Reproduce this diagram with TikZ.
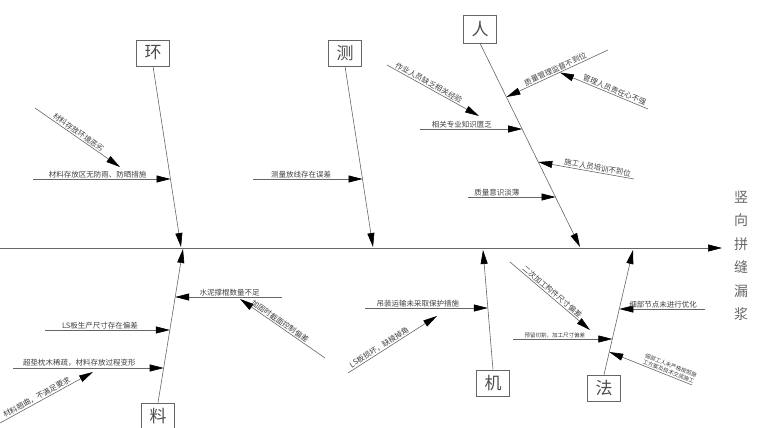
\documentclass[tikz,border=0pt]{standalone}
\usepackage{fontspec}
\newfontfamily\cjk{Noto Sans CJK SC}
\usetikzlibrary{arrows.meta}
\begin{document}
\begin{tikzpicture}[x=1pt,y=-1pt,
  bone/.style={draw=black!60, line width=0.6pt},
  arr/.style={draw=black!60, line width=0.6pt, -{Triangle[length=14pt,width=7pt,color=black]}},
  lab/.style={font=\cjk\fontsize{7.5}{9}\selectfont, text=black!75, inner sep=1pt, above},
  slab/.style={lab, sloped},
  tiny/.style={lab, font=\cjk\fontsize{5.5}{6.5}\selectfont},
  cat/.style={draw=black!60, line width=0.6pt, minimum width=33pt, minimum height=26pt, inner sep=0pt, font=\cjk\fontsize{17}{17}\selectfont, text=black!70},
  eff/.style={align=center, font=\cjk\fontsize{14}{23.5}\selectfont, text=black!60}
]
\useasboundingbox (0,0) rectangle (760,428);

% spine
\coordinate (tail) at (0,248);
\coordinate (head) at (722,248);
\draw[arr] (tail) -- (head);
\node[eff] (effect) at (741,256) {竖\\向\\拼\\缝\\漏\\浆};

% category boxes
\node[cat] (huan) at (153,53) {环};
\node[cat] (ce) at (345,53) {测};
\node[cat, minimum height=28pt] (ren) at (480,29) {人};
\node[cat] (liao) at (158,416) {料};
\node[cat] (ji) at (493,383) {机};
\node[cat] (fa) at (604,388) {法};

% bones
\coordinate (hS) at (181,247);
\coordinate (cS) at (373,247);
\coordinate (rS) at (580,247);
\coordinate (lS) at (183,249);
\coordinate (jS) at (483,250);
\coordinate (fS) at (633,250);
\draw[arr] (huan.south) -- (hS);
\draw[arr] (ce.south) -- (cS);
\draw[arr] (ren.south) -- (rS);
\draw[arr] (liao.north) -- (lS);
\draw[arr] (ji.north) -- (jS);
\draw[arr] (fa.north) -- (fS);

% ---- 环
\coordinate (h1a) at (33,179);  \coordinate (h1b) at (170.5,179);
\draw[arr] (h1a) -- node[lab, pos=0.47] {材料存放区无防雨、防晒措施} (h1b);
\coordinate (h2a) at (35,108);  \coordinate (h2b) at (120,167);
\draw[arr] (h2a) -- node[slab, pos=0.48] {材料存放环境恶劣} (h2b);

% ---- 测
\coordinate (c1a) at (253,179); \coordinate (c1b) at (362.5,179);
\draw[arr] (c1a) -- node[lab, pos=0.44] {测量放线存在误差} (c1b);

% ---- 人
\coordinate (r1a) at (387,65);  \coordinate (r1b) at (479,116);
\draw[arr] (r1a) -- node[slab, pos=0.43] {作业人员缺乏相关经验} (r1b);
\coordinate (r2a) at (420,129); \coordinate (r2b) at (522.2,129);
\draw[arr] (r2a) -- node[lab, pos=0.41] {相关专业知识匮乏} (r2b);
\coordinate (r3a) at (468,197); \coordinate (r3b) at (555.5,197);
\draw[arr] (r3a) -- node[lab, pos=0.33] {质量意识淡薄} (r3b);
\coordinate (r4a) at (608,50);  \coordinate (r4b) at (506.5,97);
\draw[arr] (r4a) -- (r4b);
\path (r4b) -- node[slab, pos=0.5] {质量管理监督不到位} (r4a);
\coordinate (r5a) at (648,109); \coordinate (r5b) at (560,72.5);
\draw[arr] (r5a) -- (r5b);
\path (r5b) -- node[slab, pos=0.6] {管理人员责任心不强} (r5a);
\coordinate (r6a) at (634,179); \coordinate (r6b) at (538.3,162);
\draw[arr] (r6a) -- (r6b);
\path (r6b) -- node[slab, pos=0.61] {施工人员培训不到位} (r6a);

% ---- 料
\coordinate (l1a) at (282,297); \coordinate (l1b) at (175.2,297);
\draw[arr] (l1a) -- (l1b);
\path (l1b) -- node[lab, pos=0.51] {水泥撑棍数量不足} (l1a);
\coordinate (l2a) at (325,358); \coordinate (l2b) at (240,299);
\draw[arr] (l2a) -- (l2b);
\path (l2b) -- node[slab, pos=0.44] {加固时截面控制偏差} (l2a);
\coordinate (l3a) at (45,330);  \coordinate (l3b) at (169.9,330);
\draw[arr] (l3a) -- node[lab, pos=0.44] {LS板生产尺寸存在偏差} (l3b);
\coordinate (l4a) at (13,368);  \coordinate (l4b) at (163.7,368);
\draw[arr] (l4a) -- node[lab, pos=0.44] {超垫枕木稀疏，材料存放过程变形} (l4b);
\coordinate (l5a) at (0,423);   \coordinate (l5b) at (93,372);
\draw[arr] (l5a) -- node[slab, pos=0.42] {材料翘曲，不满足要求} (l5b);

% ---- 机
\coordinate (j1a) at (365,308); \coordinate (j1b) at (487.8,308);
\draw[arr] (j1a) -- node[lab, pos=0.43] {吊装运输未采取保护措施} (j1b);
\coordinate (j2a) at (348,373); \coordinate (j2b) at (437,316);
\draw[arr] (j2a) -- node[slab, pos=0.38] {LS板损坏，缺棱掉角} (j2b);

% ---- 法
\coordinate (f1a) at (705,309); \coordinate (f1b) at (619.3,309);
\draw[arr] (f1a) -- (f1b);
\path (f1b) -- node[lab, pos=0.51] {细部节点未进行优化} (f1a);
\coordinate (f2a) at (510,262); \coordinate (f2b) at (590,330);
\draw[arr] (f2a) -- node[slab, pos=0.49] {二次加工构件尺寸偏差} (f2b);
\coordinate (f3a) at (513,339); \coordinate (f3b) at (612.4,339);
\draw[arr] (f3a) -- node[tiny, pos=0.42] {预留切割，加工尺寸偏差} (f3b);
\coordinate (f4a) at (692,385); \coordinate (f4b) at (609.3,352);
\draw[arr] (f4a) -- (f4b);
\path (f4b) -- node[tiny, sloped, align=center, pos=0.7] {细部工人未严格按照施\\工方案及技术交底施工} (f4a);
\end{tikzpicture}
\end{document}
